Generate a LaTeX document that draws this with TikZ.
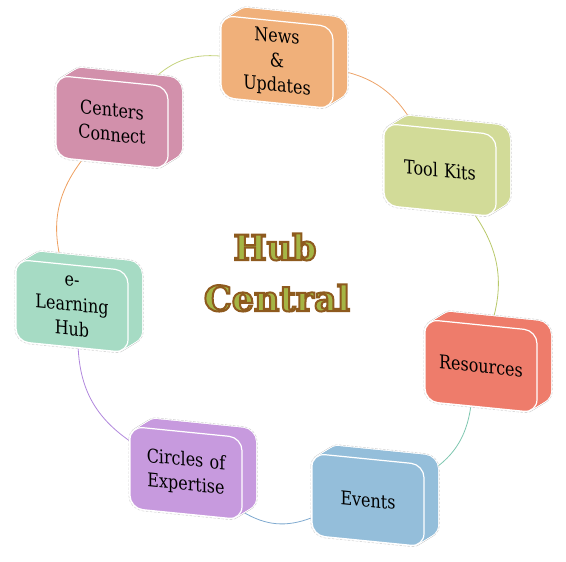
\documentclass[tikz,border=0pt]{standalone}
\usepackage{fontspec}
\setmainfont{DejaVu Serif}[FakeStretch=0.84]
\newfontfamily\hubfont{DejaVu Serif}
\usetikzlibrary{positioning}

\definecolor{newsfill}{HTML}{F0B07A}
\definecolor{toolfill}{HTML}{D2DB98}
\definecolor{resfill}{HTML}{EE7C6B}
\definecolor{eventfill}{HTML}{94BEDA}
\definecolor{circlefill}{HTML}{C79ADE}
\definecolor{learnfill}{HTML}{A6DBC4}
\definecolor{centerfill}{HTML}{D290AB}
\definecolor{hubgreen}{HTML}{A5B545}

\pgfdeclarelayer{back}
\pgfsetlayers{back,main}

\tikzset{
  rim/.style={draw=gray!35, dash pattern=on 2.5pt off 1.5pt, line width=3pt},
  gap/.style={draw=white, line width=1.8pt},
  face/.style={draw=white, line width=1.2pt, rounded corners=13pt,
    minimum width=112pt, minimum height=82pt, text width=108pt,
    align=center, inner sep=0pt, transform shape,
    font=\fontsize{19}{24.5}\selectfont},
  title/.style={font=\hubfont\fontsize{35}{35}\selectfont\bfseries},
  link/.style={line width=0.8pt, bend left=26},
}

% green letters, stroked in brown
\newcommand{\ringed}[1]{{\color{hubgreen}%
  \special{pdf:literal 2 Tr 2 w 0.557 0.353 0.118 RG}#1%
  \special{pdf:literal 0 Tr}}}

% name, centre of front face, colour, text
\newcommand{\hubbox}[4]{%
  \begin{scope}[shift={#2}, yslant=-0.1]
    \foreach \k in {0,...,10}
      \draw[rim, rounded corners=13pt] (-56+1.4*\k,-41-\k) rectangle (56+1.4*\k,41-\k);
    \foreach \k in {0,...,10}
      \draw[gap, rounded corners=13pt] (-56+1.4*\k,-41-\k) rectangle (56+1.4*\k,41-\k);
    \foreach \k in {10,...,1}
      \fill[#3, rounded corners=13pt] (-56+1.4*\k,-41-\k) rectangle (56+1.4*\k,41-\k);
    \node[face, fill=#3] (#1) at (0,0) {#4};
  \end{scope}}

\begin{document}
\begin{tikzpicture}[x=1pt, y=-1pt]
    \useasboundingbox (0,0) rectangle (566,562);

    % boxes round the cycle
    \hubbox{news}{(277,62)}{newsfill}{News\\\&\\Updates}
    \hubbox{tools}{(440,170)}{toolfill}{Tool Kits}
    \hubbox{res}{(481,366)}{resfill}{Resources}
    \hubbox{events}{(368,500)}{eventfill}{Events}
    \hubbox{circles}{(186,473)}{circlefill}{Circles of\\Expertise}
    \hubbox{learn}{(72,306)}{learnfill}{e-\\Learning\\Hub}
    \hubbox{centers}{(112,122)}{centerfill}{Centers\\Connect}

    % title
    \node[title] (hub) at (275,247) {\ringed{Hub}};
    \node[title] (central) at (277,298) {\ringed{Central}};

    % arcs between boxes
    \begin{pgfonlayer}{back}
    \draw[link, color={rgb,255:red,197;green,211;blue,126}] (centers) to (news);
    \draw[link, color={rgb,255:red,237;green,164;blue,106}] (news) to (tools);
    \draw[link, color={rgb,255:red,184;green,200;blue,106}] (tools) to (res);
    \draw[link, color={rgb,255:red,127;green,199;blue,176}] (res) to (events);
    \draw[link, color={rgb,255:red,127;green,170;blue,208}] (events) to (circles);
    \draw[link, color={rgb,255:red,177;green,136;blue,221}] (circles) to (learn);
    \draw[link, color={rgb,255:red,238;green,160;blue,96}] (learn) to (centers);
    \end{pgfonlayer}
\end{tikzpicture}
\end{document}
